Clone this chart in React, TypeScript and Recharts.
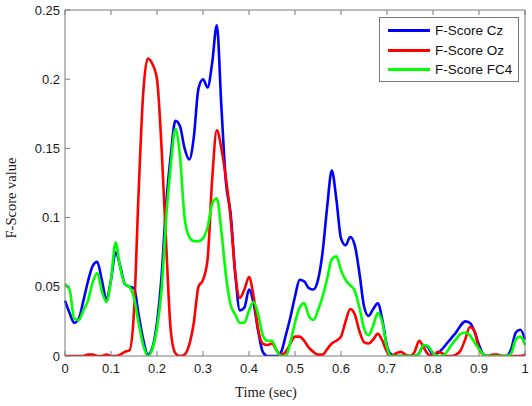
import { LineChart, Line, XAxis, YAxis, Legend } from 'recharts'

// F-score curves sampled every 10 ms, 0 .. 1 s
const CZ = [
  0.040, 0.031, 0.024, 0.027, 0.040, 0.054, 0.065, 0.068, 0.055, 0.041,
  0.055, 0.075, 0.065, 0.052, 0.050, 0.049, 0.030, 0.012, 0.001, 0.006,
  0.024, 0.058, 0.110, 0.145, 0.170, 0.166, 0.150, 0.142, 0.158, 0.193,
  0.200, 0.194, 0.212, 0.239, 0.180, 0.125, 0.103, 0.060, 0.033, 0.035,
  0.048, 0.038, 0.018, 0.003, 0, 0, 0, 0.003, 0.015, 0.028,
  0.043, 0.055, 0.054, 0.049, 0.048, 0.055, 0.075, 0.108, 0.134, 0.113,
  0.085, 0.080, 0.086, 0.080, 0.060, 0.036, 0.029, 0.034, 0.038, 0.026,
  0.007, 0.001, 0, 0, 0, 0, 0, 0.002, 0.008, 0.006,
  0.001, 0.002, 0.005, 0.009, 0.013, 0.017, 0.022, 0.025, 0.024, 0.018,
  0.008, 0.001, 0, 0, 0, 0, 0, 0.005, 0.017, 0.019,
  0.012,
]

const OZ = [
  0, 0, 0, 0, 0, 0.001, 0.001, 0, 0, 0.001,
  0, 0, 0.001, 0.003, 0.004, 0.032, 0.118, 0.190, 0.215, 0.211,
  0.200, 0.150, 0.080, 0.018, 0.002, 0, 0.001, 0.008, 0.024, 0.050,
  0.055, 0.070, 0.128, 0.163, 0.150, 0.128, 0.100, 0.060, 0.042, 0.048,
  0.057, 0.043, 0.019, 0.009, 0.008, 0.009, 0.004, 0.001, 0.003, 0.009,
  0.014, 0.014, 0.011, 0.006, 0.003, 0.001, 0.001, 0.005, 0.009, 0.011,
  0.014, 0.025, 0.034, 0.030, 0.018, 0.010, 0.009, 0.012, 0.016, 0.011,
  0.003, 0, 0.002, 0.003, 0.001, 0, 0.003, 0.011, 0.006, 0.001,
  0, 0.003, 0.002, 0, 0, 0.001, 0.004, 0.012, 0.021, 0.018,
  0.005, 0.001, 0, 0.001, 0.001, 0, 0, 0, 0, 0,
  0.001,
]

const FC4 = [
  0.052, 0.048, 0.027, 0.026, 0.033, 0.040, 0.053, 0.060, 0.047, 0.039,
  0.055, 0.082, 0.064, 0.052, 0.050, 0.042, 0.024, 0.008, 0, 0.005,
  0.020, 0.048, 0.100, 0.138, 0.164, 0.144, 0.100, 0.086, 0.083, 0.083,
  0.085, 0.093, 0.110, 0.114, 0.090, 0.058, 0.037, 0.030, 0.024, 0.024,
  0.033, 0.039, 0.030, 0.015, 0.011, 0.011, 0.004, 0, 0, 0.010,
  0.024, 0.035, 0.038, 0.029, 0.026, 0.033, 0.043, 0.056, 0.070, 0.072,
  0.062, 0.055, 0.051, 0.047, 0.035, 0.020, 0.015, 0.022, 0.031, 0.024,
  0.006, 0, 0, 0, 0, 0, 0, 0.002, 0.008, 0.007,
  0.002, 0, 0, 0.003, 0.008, 0.012, 0.016, 0.017, 0.015, 0.010,
  0.005, 0.001, 0, 0, 0, 0, 0, 0.002, 0.012, 0.014,
  0.008,
]

const SERIES_NAMES = ['F-Score Cz', 'F-Score Oz', 'F-Score FC4']
const X_TICKS = [0, 0.1, 0.2, 0.3, 0.4, 0.5, 0.6, 0.7, 0.8, 0.9, 1]
const Y_TICKS = [0, 0.05, 0.1, 0.15, 0.2, 0.25]

const data = CZ.map((cz, i) => ({ t: i / 100, cz, oz: OZ[i], fc4: FC4[i] }))

const SANS = '"Liberation Sans", Arial, sans-serif'
const SERIF = '"Liberation Serif", "Times New Roman", serif'
const AXIS = '#7a7a7a'
const tickStyle = { fontSize: 13, fill: '#1a1a1a', fontFamily: SANS }
const noLabel = () => <g />

const LegendBox = ({ payload }: any) => {
  const items = [...(payload || [])].sort(
    (a: any, b: any) => SERIES_NAMES.indexOf(a.value) - SERIES_NAMES.indexOf(b.value)
  )
  return (
    <div
      style={{
        border: `1px solid ${AXIS}`,
        background: '#fff',
        width: 140,
        height: 65,
        boxSizing: 'border-box',
        paddingTop: 3,
        fontFamily: SANS,
        fontSize: 13.5,
        color: '#111',
      }}
    >
      {items.map((p: any) => (
        <div key={p.value} style={{ display: 'flex', alignItems: 'center', height: 19.5 }}>
          <span style={{ display: 'inline-block', marginLeft: 8, width: 42, height: 3, background: p.color }} />
          <span style={{ marginLeft: 5, lineHeight: 1 }}>{p.value}</span>
        </div>
      ))}
    </div>
  )
}

export default function App() {
  return (
    <div style={{ position: 'absolute', left: 0, top: 0, width: 532, height: 406, background: '#fff' }}>
      <LineChart width={532} height={406} data={data} margin={{ top: 0, right: 0, bottom: 0, left: 0 }}>
        <XAxis
          dataKey="t"
          type="number"
          domain={[0, 1]}
          ticks={X_TICKS}
          height={50}
          tickSize={-5}
          tickMargin={13}
          stroke={AXIS}
          tick={tickStyle}
          label={{
            content: (props: any) => {
              const vb = props.viewBox
              return (
                <text x={vb.x + vb.width / 2 - 29} y={vb.y + 41} textAnchor="middle" fontFamily={SERIF} fontSize={14.5} fill="#1a1a1a">
                  Time (sec)
                </text>
              )
            },
          }}
        />
        <XAxis
          xAxisId="top"
          orientation="top"
          dataKey="t"
          type="number"
          domain={[0, 1]}
          ticks={X_TICKS}
          height={10}
          tickSize={-5}
          stroke={AXIS}
          tick={noLabel}
        />
        <YAxis
          type="number"
          domain={[0, 0.25]}
          ticks={Y_TICKS}
          width={65}
          tickSize={-5}
          tickMargin={10}
          stroke={AXIS}
          tick={tickStyle}
          allowDataOverflow
          label={{
            content: (props: any) => {
              const vb = props.viewBox
              const x = vb.x + 16
              const y = vb.y + vb.height / 2 + 15
              return (
                <text x={x} y={y} transform={`rotate(-90 ${x} ${y})`} textAnchor="middle" fontFamily={SERIF} fontSize={14.5} fill="#1a1a1a">
                  F-Score value
                </text>
              )
            },
          }}
        />
        <YAxis
          yAxisId="right"
          orientation="right"
          type="number"
          domain={[0, 0.25]}
          ticks={Y_TICKS}
          width={7}
          tickSize={-5}
          stroke={AXIS}
          tick={noLabel}
        />
        <Legend
          layout="horizontal"
          verticalAlign="middle"
          align="center"
          content={<LegendBox />}
          wrapperStyle={{ top: 17, left: 379, width: 140, height: 65 }}
        />
        <Line type="monotone" dataKey="cz" name={SERIES_NAMES[0]} stroke="#0000ff" strokeWidth={2.6} dot={false} isAnimationActive={false} />
        <Line type="monotone" dataKey="oz" name={SERIES_NAMES[1]} stroke="#ff0000" strokeWidth={2.6} dot={false} isAnimationActive={false} />
        <Line type="monotone" dataKey="fc4" name={SERIES_NAMES[2]} stroke="#00ff00" strokeWidth={2.6} dot={false} isAnimationActive={false} />
      </LineChart>
    </div>
  )
}
